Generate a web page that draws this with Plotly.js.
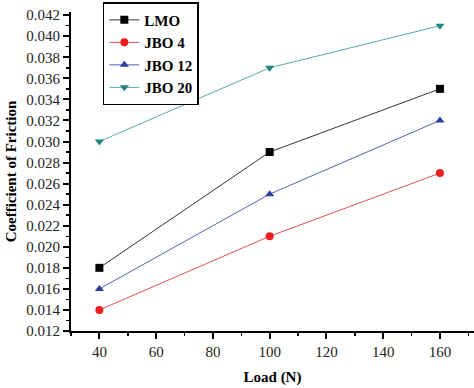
<!DOCTYPE html>
<html><head><meta charset="utf-8">
<script src="https://cdn.plot.ly/plotly-3.0.1.min.js"></script>
<style>html,body{margin:0;padding:0;background:#fff}#chart{width:474px;height:388px}</style>
</head><body><div id="chart"></div>
<script>
const loads = [40, 100, 160];
const seriesNames = ["LMO", "JBO 4", "JBO 12", "JBO 20"];
const lmo = [0.018, 0.029, 0.035];
const jbo4 = [0.014, 0.021, 0.027];
const jbo12 = [0.016, 0.025, 0.032];
const jbo20 = [0.030, 0.037, 0.041];

const styles = [
  {symbol: "square", color: "#000000", line: "#333333"},
  {symbol: "circle", color: "#ee1c1c", line: "#e05050"},
  {symbol: "triangle-up", color: "#2b3b9e", line: "#5560b0"},
  {symbol: "triangle-down", color: "#1f8585", line: "#5aaaaa"}
];
const values = [lmo, jbo4, jbo12, jbo20];
const traces = values.map((v, i) => ({
  x: loads, y: v, name: seriesNames[i], type: "scatter", mode: "lines+markers",
  line: {color: styles[i].line, width: 1},
  marker: {symbol: styles[i].symbol, color: styles[i].color, size: 8}
}));

const serif = "Liberation Serif, Times New Roman, serif";
const tickFont = {family: serif, size: 15, color: "#222"};
const layout = {
  width: 474, height: 388,
  margin: {l: 71, r: 0, t: 12, b: 57},
  paper_bgcolor: "#fff", plot_bgcolor: "#fff",
  showlegend: true,
  legend: {x: 0.079, y: 1.031, xanchor: "left", yanchor: "top",
    bordercolor: "#000", borderwidth: 1.5, bgcolor: "#fff",
    font: {family: serif, size: 15, color: "#000", weight: "bold"},
    tracegroupgap: 0, itemwidth: 30},
  xaxis: {range: [30, 172], tickvals: [40, 60, 80, 100, 120, 140, 160],
    showgrid: false, zeroline: false, showline: true, linecolor: "#000", linewidth: 2,
    ticks: "outside", ticklen: 6, tickwidth: 2, tickcolor: "#000",
    minor: {dtick: 10, tick0: 30, ticks: "outside", ticklen: 3, tickwidth: 1.5, tickcolor: "#000", showgrid: false},
    tickfont: tickFont,
    title: {text: "Load (N)", font: {family: serif, size: 15, color: "#000", weight: "bold"}, standoff: 12}},
  yaxis: {range: [0.012, 0.0423], dtick: 0.002, tick0: 0.012, tickformat: ".3f",
    showgrid: false, zeroline: false, showline: true, linecolor: "#000", linewidth: 2,
    ticks: "outside", ticklen: 6, tickwidth: 2, tickcolor: "#000",
    minor: {dtick: 0.001, tick0: 0.012, ticks: "outside", ticklen: 3, tickwidth: 1.5, tickcolor: "#000", showgrid: false},
    tickfont: tickFont,
    title: {text: "Coefficient of Friction", font: {family: serif, size: 15, color: "#000", weight: "bold"}, standoff: 6}}
};
Plotly.newPlot("chart", traces, layout, {displayModeBar: false, staticPlot: true});
</script></body></html>
